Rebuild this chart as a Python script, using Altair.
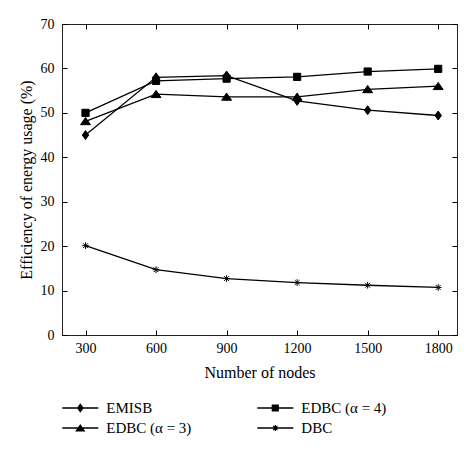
import math
import altair as alt
import pandas as pd

nodes = [300, 600, 900, 1200, 1500, 1800]
series_names = ["EMISB", "EDBC (α = 4)", "EDBC (α = 3)", "DBC"]
emisb = [45.0, 58.0, 58.4, 52.7, 50.6, 49.4]
edbc4 = [50.0, 57.2, 57.7, 58.1, 59.3, 59.9]
edbc3 = [48.1, 54.2, 53.6, 53.6, 55.3, 56.0]
dbc = [20.1, 14.7, 12.7, 11.8, 11.2, 10.7]
x_ticks = [300, 600, 900, 1200, 1500, 1800]
y_ticks = [0, 10, 20, 30, 40, 50, 60, 70]

rows = []
for name, vals in zip(series_names, [emisb, edbc4, edbc3, dbc]):
    for n, v in zip(nodes, vals):
        rows.append({"series": name, "nodes": n, "eff": v})
df = pd.DataFrame(rows)

FONT = "'Liberation Serif', 'Times New Roman', 'DejaVu Serif', serif"

plot_paths = [
    "M0,-1L0.72,0L0,1L-0.72,0Z",
    "M-0.8,-0.8L0.8,-0.8L0.8,0.8L-0.8,0.8Z",
    "M0,-0.85L1.1,0.75L-1.1,0.75Z",
    "M0,-0.75L0,0.75M-0.75,0L0.75,0M-0.53,-0.53L0.53,0.53M-0.53,0.53L0.53,-0.53",
]


def bar(angle_deg, half_len, half_w):
    a = math.radians(angle_deg)
    dx, dy = math.cos(a), math.sin(a)
    nx, ny = -dy, dx
    pts = [(-half_len * dx - half_w * nx, -half_len * dy - half_w * ny),
           (half_len * dx - half_w * nx, half_len * dy - half_w * ny),
           (half_len * dx + half_w * nx, half_len * dy + half_w * ny),
           (-half_len * dx + half_w * nx, -half_len * dy + half_w * ny)]
    return "M" + "L".join(f"{x:.3f},{y:.3f}" for x, y in pts) + "Z"


LINE = bar(0, 2.5, 0.09)
legend_paths = [
    LINE + "M0,-0.66L0.48,0L0,0.66L-0.48,0Z",
    LINE + "M-0.5,-0.5L0.5,-0.5L0.5,0.5L-0.5,0.5Z",
    LINE + "M0,-0.55L0.72,0.5L-0.72,0.5Z",
    LINE + "".join(bar(a, 0.42, 0.08) for a in (0, 45, 90, 135)),
]

xscale = alt.Scale(domain=[200, 1880], nice=False, zero=False)
yscale = alt.Scale(domain=[0, 70], nice=False)

common_axis = dict(
    offset=-5, tickSize=5, domain=False, grid=False,
    tickColor="black", tickWidth=1, labelColor="black", titleColor="black",
    labelFont=FONT, titleFont=FONT, labelFontSize=14, titleFontSize=16,
    titleFontWeight="normal", labelFlush=False,
)

lines = alt.Chart(df).mark_line(color="black", strokeWidth=1.3).encode(
    x=alt.X("nodes:Q", scale=xscale,
            axis=alt.Axis(orient="bottom", values=x_ticks, labelPadding=6, format="d",
                          title="Number of nodes", titlePadding=9, **common_axis)),
    y=alt.Y("eff:Q", scale=yscale,
            axis=alt.Axis(orient="left", values=y_ticks, labelPadding=8, format="d",
                          title="Efficiency of energy usage (%)", titlePadding=6,
                          **common_axis)),
    detail="series:N",
)

points = alt.Chart(df).mark_point(
    filled=True, size=81, color="black", stroke="black", strokeWidth=1, opacity=1
).encode(
    x=alt.X("nodes:Q", scale=xscale, axis=None),
    y=alt.Y("eff:Q", scale=yscale, axis=None),
    shape=alt.Shape("series:N",
                    scale=alt.Scale(domain=series_names, range=plot_paths),
                    legend=None),
)

legend_layer = alt.Chart(df).transform_filter("false").mark_point(
    filled=True, color="black", opacity=1
).encode(
    x=alt.X("nodes:Q", scale=xscale,
            axis=alt.Axis(orient="top", values=x_ticks, labels=False, title=None,
                          **common_axis)),
    y=alt.Y("eff:Q", scale=yscale,
            axis=alt.Axis(orient="right", values=y_ticks, labels=False, title=None,
                          **common_axis)),
    shape=alt.Shape(
        "series:N",
        scale=alt.Scale(domain=series_names, range=legend_paths),
        legend=alt.Legend(
            title=None, orient="none", legendX=10.3, legendY=376, columns=2,
            direction="horizontal",
            columnPadding=62, rowPadding=4, symbolSize=207, padding=0,
            labelFont=FONT, labelFontSize=15, labelColor="black", labelOffset=18,
            symbolFillColor="black", symbolOpacity=1,
        ),
    ),
)

chart = alt.layer(lines, points, legend_layer).resolve_scale(
    shape="independent"
).resolve_axis(
    x="independent", y="independent"
).properties(
    width=395, height=311,
    autosize=alt.AutoSizeParams(type="none"),
    padding={"left": 54, "top": 16, "right": 9, "bottom": 119},
    background="white",
).configure_view(stroke="#222", strokeWidth=1)

chart.save("out.html", embed_options={"renderer": "svg", "actions": False})
